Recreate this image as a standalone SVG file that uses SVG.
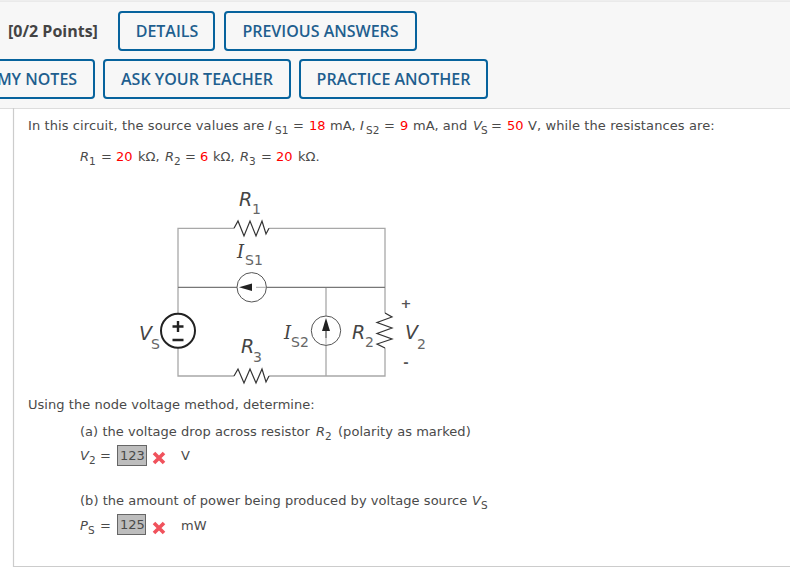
<svg xmlns="http://www.w3.org/2000/svg" width="790" height="587" viewBox="0 0 790 587">
<style>
text{font-family:"DejaVu Sans",Verdana,sans-serif;font-size:13px;fill:#4a4a4a}
.btn rect{fill:#f7f7f7;stroke:#07639d;stroke-width:2}
.btn text,.pts{font-family:"Open Sans",sans-serif;font-size:16px;font-weight:600;fill:#1f5f8f}
.btn text{text-anchor:middle}
.pts{fill:#444;font-weight:700}
.r{fill:#f00}
.i{font-style:italic}
.s{font-size:10.5px}
.w{fill:none;stroke:#a8a8a8;stroke-width:1.3}
.k{fill:none;stroke:#333;stroke-width:1.2}
.c{fill:#fff;stroke:#555;stroke-width:1}
.l{font-size:19px;fill:#444}
.ii{font-family:"DejaVu Serif",serif;font-style:italic;font-size:18px;fill:#444}
.ls{font-size:14px;fill:#666}
.box{fill:#bdbdbd;stroke:#666;stroke-width:1}
.x{stroke:#f0525c;stroke-width:3.6;fill:none}
.lsp{letter-spacing:.1px}
.lsq{letter-spacing:.04px}
</style>
<rect width="790" height="587" fill="#fff"/>
<g id="header">
<rect x="0" y="1" width="790" height="107" fill="#f7f7f7"/>
<path d="M0 1H790M0 108.500H790" stroke="#ddd" stroke-width="1" fill="none"/>
<text class="pts" x="8" y="37">[0/2 Points]</text>
<g class="btn" id="btn-details"><rect x="119" y="12" width="95" height="38" rx="3"/><text x="167" y="37">DETAILS</text></g>
<g class="btn" id="btn-previous"><rect x="225" y="12" width="191" height="38" rx="3"/><text x="320.500" y="37">PREVIOUS ANSWERS</text></g>
<g class="btn" id="btn-notes"><rect x="-20" y="60" width="114" height="38" rx="3"/><text x="37" y="85">MY NOTES</text></g>
<g class="btn" id="btn-ask"><rect x="104" y="60" width="186" height="38" rx="3"/><text x="197" y="85">ASK YOUR TEACHER</text></g>
<g class="btn" id="btn-practice"><rect x="300" y="60" width="187" height="38" rx="3"/><text x="393.500" y="85">PRACTICE ANOTHER</text></g>
</g>
<path id="panel" d="M13.500 108V566.500H790" fill="none" stroke="#ccc" stroke-width="1.200"/>
<g id="problem">
<text class="lsp" x="28" y="130">In this circuit, the source values are</text>
<text class="i" x="268" y="130">I</text><text class="s" x="275" y="134">S1</text>
<text x="293" y="130">=</text><text class="r" x="309" y="130">18</text><text x="330" y="130">mA,</text>
<text class="i" x="360" y="130">I</text><text class="s" x="366" y="134">S2</text>
<text x="384" y="130">=</text><text class="r" x="400" y="130">9</text><text x="413" y="130">mA, and</text>
<text class="i" x="473" y="130">V</text><text class="s" x="481" y="134">S</text>
<text x="491" y="130">=</text><text class="r" x="507" y="130">50</text><text class="lsp" x="528" y="130">V, while the resistances are:</text>
<text class="i" x="80" y="161">R</text><text class="s" x="89" y="165">1</text>
<text x="101" y="161">=</text><text class="r" x="116" y="161">20</text><text x="138" y="161">kΩ,</text>
<text class="i" x="165" y="161">R</text><text class="s" x="174" y="165">2</text>
<text x="185" y="161">=</text><text class="r" x="200" y="161">6</text><text x="213" y="161">kΩ,</text>
<text class="i" x="240" y="161">R</text><text class="s" x="249" y="165">3</text>
<text x="261" y="161">=</text><text class="r" x="276" y="161">20</text><text x="298" y="161">kΩ.</text>
</g>
<g id="connectors">
<path class="w" d="M234 228.300H178V313M269 228.300H385V313M178 348V376H234M269 376H385V348M326 287.300V316M326 345V376"/>
<path d="M178 287.300H237M266 287.300H385" fill="none" stroke="#777" stroke-width="1.200"/>
</g>
<g id="R1"><path class="k" d="M234 228.300L238 221 244 236 250 221 256 236 262 221 266 234 269 228.300"/><text class="l i" x="239" y="206">R</text><text class="ls" x="252" y="214">1</text></g>
<g id="IS1"><circle class="c" cx="251.700" cy="287.300" r="14.700"/><path d="M266 287.300H256" stroke="#aaa" fill="none"/><path d="M239 287.300L252 283.500V291Z" fill="#222"/><text class="ii" x="237" y="258">I</text><text class="ls" x="245" y="265">S1</text></g>
<g id="VS"><circle cx="178" cy="330.700" r="17" fill="#fff" stroke="#222" stroke-width="2"/><path d="M178 321V332M172.500 326.500H183.500M172.500 340H183.500" stroke="#222" stroke-width="2.400" fill="none"/><text class="l i" x="139" y="340">V</text><text class="ls" x="151" y="349">S</text></g>
<g id="R3"><path class="k" d="M234 376L238 369 244 383 250 369 256 383 262 369 266 382 269 376"/><text class="l i" x="241" y="353">R</text><text class="ls" x="253" y="362">3</text></g>
<g id="IS2"><circle class="c" cx="326" cy="330.700" r="14.700"/><path d="M326 338V345" stroke="#aaa" fill="none"/><path d="M326 318L322 331H330Z" fill="#222"/><path d="M326 330V338" stroke="#222" stroke-width="1"/><text class="ii" x="284" y="339">I</text><text class="ls" x="291" y="347">S2</text></g>
<g id="R2"><path class="k" d="M385 313L392 317 377 322.500 392 328 377 333.500 392 339 377 344 385 348"/><text class="l i" x="352" y="339">R</text><text class="ls" x="365" y="347">2</text>
<text class="l i" x="405" y="339">V</text><text class="ls" x="417" y="349">2</text><text x="406" y="308" style="font-size:13px;font-weight:bold;fill:#555" text-anchor="middle">+</text><text x="406" y="367" style="font-size:13px;font-weight:bold;fill:#555" text-anchor="middle">-</text></g>
<g id="questions">
<text class="lsq" x="28" y="409">Using the node voltage method, determine:</text>
<text class="lsq" x="80" y="436">(a) the voltage drop across resistor</text>
<text class="i" x="316" y="436">R</text><text class="s" x="325" y="440">2</text>
<text class="lsq" x="338" y="436">(polarity as marked)</text>
<text class="i" x="80" y="460">V</text><text class="s" x="89" y="464">2</text><text x="100" y="460">=</text>
<rect class="box" x="117.500" y="445.500" width="29" height="20"/><text x="120" y="460">123</text>
<path class="x" d="M154 453L164 463M164 453L154 463"/><text x="181" y="460">V</text>
<text class="lsq" x="80" y="505">(b) the amount of power being produced by voltage source</text>
<text class="i" x="472" y="505">V</text><text class="s" x="481" y="509">S</text>
<text class="i" x="80" y="530">P</text><text class="s" x="88" y="534">S</text><text x="100" y="530">=</text>
<rect class="box" x="117.500" y="514.500" width="28" height="20"/><text x="120" y="529">125</text>
<path class="x" d="M154 523L164 533M164 523L154 533"/><text x="181" y="530">mW</text>
</g>
</svg>
